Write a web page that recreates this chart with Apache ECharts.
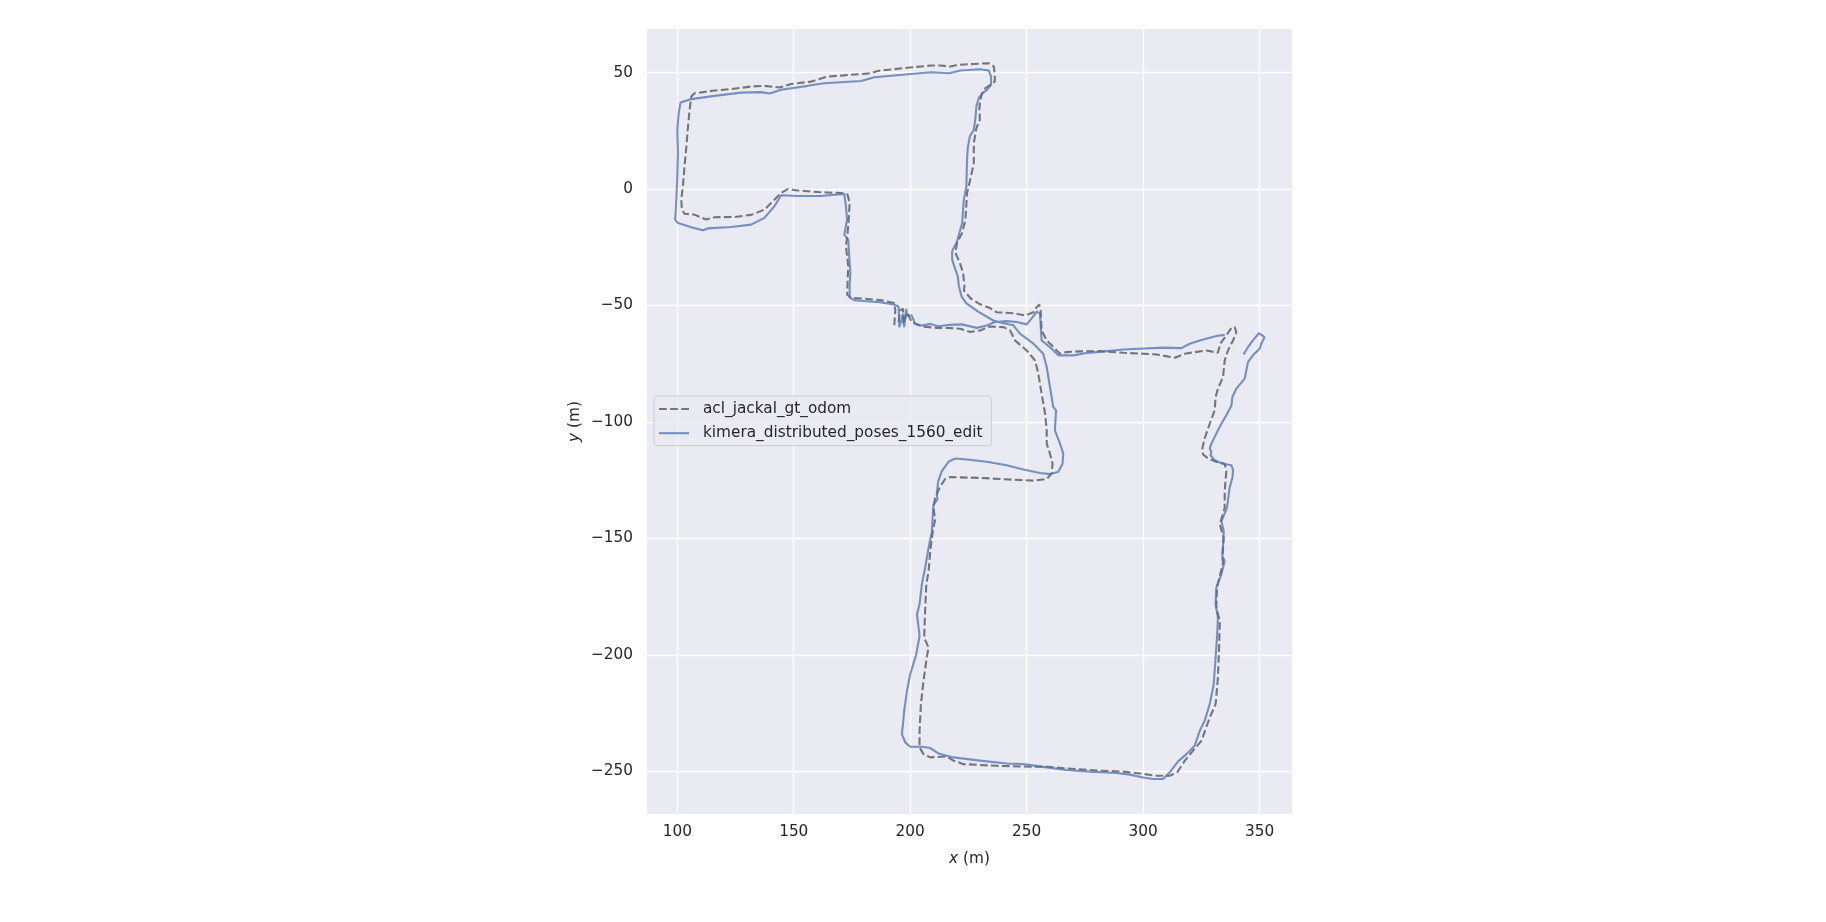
<!DOCTYPE html>
<html><head><meta charset="utf-8">
<script src="https://cdn.jsdelivr.net/npm/echarts@6/dist/echarts.min.js"></script>
<style>html,body{margin:0;padding:0;background:#fff}#c{width:1826px;height:922px}</style>
</head><body><div id="c"></div>
<script>
const seriesNames = ['acl_jackal_gt_odom', 'kimera_distributed_poses_1560_edit'];
const xTicks = [100, 150, 200, 250, 300, 350];
const yTicks = [-250, -200, -150, -100, -50, 0, 50];

const gtX = [195,195.7,196.9,197.1,198.6,200.7,205,211.4,215.7,221.4,225.7,230,234.3,240,242.9,245,250,253.6,255,256.4,257.9,258.6,258.6,260,261.1,260.7,258.6,252.9,244.3,230,217.1,215,212.9,210.7,210,210.7,209.7,208.6,207.9,206.9,206.4,206,207.9,207.1,205.7,204.6,204,204,205.7,208.6,215.7,218.6,222.9,237.1,251.4,258.6,267.1,281.4,291.4,298.6,305.7,311.4,314.6,317.9,321.4,325,328.6,331.1,332.1,332.6,332.9,331.4,331.7,334.3,334,334.6,332.9,335,335,335.7,335,331.4,327.9,325.7,325.4,326.4,328.6,330.7,331.1,332.1,334.3,335,336.4,338.6,340,339.3,337.9,335.7,333.1,332.1,327.1,317.9,313.6,305.7,291.4,281.4,272.9,267.1,264.3,262.9,258.6,256.4,256,255.4,254.3,252.9,249.3,244.3,237.1,234,230,226,223,223.3,222.7,221.3,219.4,220.1,222.3,223.7,224.4,226.1,227.3,227.3,228.4,229.9,229.7,230.1,230.9,232.3,234.4,236.3,236.3,235.9,233.7,227.3,220.1,217.3,213,208.9,201,186,183.1,170.3,164.6,157.4,148.9,143.9,137.4,131.7,123.1,116,107.4,106,105.3,104.6,103.9,103.1,102.4,101.7,102,103.1,107.4,112.4,116,124.6,131.7,137.4,141.7,144.6,147.4,151.7,161.7,170.3,173.1,174,173.6,173.1,172.4,173.4,173.1,172.9,174.6,180.3,187.4,193.1,193.6,193.1];
const gtY = [-57.1,-52.1,-51.4,-57.9,-52.9,-57.1,-59,-59.6,-59.6,-60,-61.4,-60.7,-59,-59.3,-60.7,-65,-69.3,-73.6,-79.3,-87.9,-96.4,-103.6,-109.3,-113.6,-117.9,-122.1,-124.5,-125.2,-124.8,-124,-123.7,-124.5,-127.6,-132.6,-136.9,-141.9,-146.9,-155.4,-164,-169.7,-181.1,-192.6,-196.9,-201.1,-211.1,-221.1,-232.6,-239.7,-242.6,-244,-243.6,-245.4,-246.9,-247.6,-248,-248,-248.7,-249.7,-250.1,-250.9,-251.9,-251.9,-250.4,-245.4,-241.1,-236.9,-226.9,-221.1,-209.7,-196.9,-185.4,-179.7,-171.1,-160.4,-158.3,-149.7,-144,-136.9,-129.7,-121.1,-117.9,-117.1,-115.7,-113.9,-111.4,-107.1,-100.7,-95,-89.3,-85.7,-80.7,-73.6,-69.3,-65,-61.4,-59.3,-59.6,-62.9,-66.4,-70.3,-69.3,-70.7,-72.4,-71,-70.3,-69.6,-69.7,-70,-70.7,-69.3,-65,-60.7,-52.1,-49.6,-50.7,-52.9,-54.3,-53.3,-52.9,-51,-49.5,-47,-43.5,-41.7,-36,-31.7,-27.4,-23.1,-18.9,-13.1,-1.7,5.4,11.1,19.7,26.1,29.7,34.7,38.3,41.1,43.3,44.7,46.1,49,52.6,54,53.7,53.3,52.6,53,53,52.3,50.7,49.7,48.7,48.3,46.1,45.1,43.6,44.3,44,42.9,42.3,41.1,39.7,34,26.9,18.3,9.7,1.1,-4.6,-8.9,-10.6,-11,-13.1,-12.1,-12,-11.1,-8.9,-4.6,-1.7,0,-0.6,-1.4,-1.7,-2.4,-6,-13.1,-18.9,-24.6,-33.1,-40.3,-45.3,-46.7,-47.1,-47.7,-48.9,-52.1,-59.3];

const estX = [335,331.4,324.3,320,316.4,308.6,291.4,281.4,275.7,270,263.6,260,256.4,255.7,254.3,252.6,250,245.7,241.4,236.4,232.9,228.6,222.1,217.1,212.1,208.6,205,202.1,200.7,198.6,198.3,197.4,196.9,196,195.3,195,192.9,187.1,180.3,176,174,174,174.3,173.9,173.4,171.7,172.9,172.4,171.7,161.7,151.7,144.6,141.7,137.4,131.7,123.1,113.1,111,106,100.3,99.1,99.6,100,100.3,100,100.6,101.4,106,116,127.4,136,139.6,144.6,156,163,178.9,184.6,200.3,209,216.7,221.6,230,233.7,234.7,234.7,233,230.9,229.4,228.4,228,227.3,225.6,224.7,224.4,224.1,223,222.3,220.1,218,218,219.4,220.4,220.9,222,224,229,235.7,240,244.3,247.1,252.9,257.1,258.6,260,261.4,262.6,262.1,264.3,265.7,265.4,263.6,260,255.7,248.6,241.4,232.9,224.3,219.3,216.4,213.5,212,211.4,211.7,210,209.7,209.3,207.9,206.4,205,204,202.9,203.6,204,202.6,200,198.6,197.4,196.9,196.4,197.9,200,205,208.6,212.1,218.6,230,241.4,248.6,258.6,267.1,277.1,288.6,294.3,300,304.3,308.6,311.4,315,318.6,322.1,324.3,326.4,328.6,330.3,331.1,331.7,332.1,331.1,331.4,333.6,335,334,334.3,334.6,333.6,336,337.1,338.4,338.6,337.9,334.3,330.7,328.9,329.3,328.6,329.3,331.4,333.6,335.7,337.9,338.3,340,343.6,345,347.1,350,350.7,352.1,349.7,347.1,345,343.1];
const estY = [-62.6,-63.1,-65,-66.4,-68.3,-68.1,-68.9,-69.9,-70.4,-71.4,-71.4,-67.9,-65,-53.5,-52.6,-55,-58.1,-57.1,-56.7,-57.1,-58.6,-59.6,-58.1,-58.3,-58.9,-57.9,-58.6,-57.9,-54.3,-54.3,-51.4,-59.3,-53.6,-57.1,-59.3,-50.4,-49.6,-48.6,-48.1,-47.7,-46.6,-41.7,-36,-30.3,-21.7,-19.6,-13.1,-7.4,-2.1,-3,-3,-2.7,-7.4,-12.4,-15.3,-16.3,-16.9,-17.7,-16.4,-14.6,-13.1,-4.6,5.4,15.4,25.4,32.6,37.1,38.6,40,41.4,41.6,41,42.6,44.3,45.4,46.4,48,49.4,50.1,49.7,50.9,51.4,50.9,48.3,44.7,42.6,41.1,39,35.4,30.4,25.4,22.6,17.6,12.6,1.1,-4.6,-14.6,-22.4,-26.7,-30.3,-34.6,-37.4,-41.7,-46,-49,-52.5,-56.5,-57.6,-58.5,-62.1,-66.4,-70.7,-76.4,-85,-93.6,-95,-103.6,-109.3,-113.6,-117.9,-121.4,-122.4,-121.9,-120.4,-118.6,-117.1,-116.1,-115.7,-117.1,-121.2,-125.5,-131.1,-133.3,-135.4,-139.7,-146.9,-154,-162.6,-169.7,-178.3,-182.6,-188.3,-191.9,-199.7,-208.3,-215.4,-224,-229.7,-234,-237.6,-239.4,-239.4,-240,-242.3,-244,-245.4,-246.6,-246.9,-248.3,-249.4,-250.1,-250.7,-251.4,-252.6,-253.3,-253.3,-250.4,-245.7,-242.6,-239,-232.6,-228.3,-221.1,-212.6,-201.1,-192.6,-184,-178.3,-171.1,-165.4,-159.7,-157.6,-152.6,-146.9,-142.6,-136.9,-128.3,-123.5,-120.7,-118.6,-117.9,-116.4,-114.3,-112.9,-111.4,-109.3,-105,-100.7,-97.1,-92.9,-89.3,-85.7,-81.4,-74.3,-71.4,-68.6,-66.4,-63.6,-61.9,-65,-67.9,-71];

const zip = (xs, ys) => xs.map((x, i) => [x, ys[i]]);
const fmt = v => (v < 0 ? '\u2212' + Math.abs(v) : String(v));
const FONT = 'DejaVu Sans';
const FS = 15.3;
const TXT = '#262626';
const GT_COLOR = 'rgba(0,0,0,0.5)';
const EST_COLOR = 'rgba(76,114,176,0.75)';
const DASH_ICON = 'path://M0,0h7.7v2.1h-7.7zM11,0h7.7v2.1h-7.7zM22,0h7.7v2.1h-7.7z';
const SOLID_ICON = 'path://M0,0h29.7v2.1h-29.7z';

const chart = echarts.init(document.getElementById('c'), null, {renderer: 'canvas'});
chart.setOption({
  animation: false,
  backgroundColor: '#ffffff',
  textStyle: {fontFamily: FONT},
  grid: {left: 647, top: 29, width: 645, height: 785, backgroundColor: '#EAEAF2', show: true, borderWidth: 0},
  xAxis: {
    type: 'value', min: 87.0, max: 363.9,
    name: '{i|x} (m)', nameLocation: 'middle', nameGap: 37.5,
    nameTextStyle: {color: TXT, fontSize: FS, fontFamily: FONT, rich: {i: {fontStyle: 'italic', fontSize: FS, color: TXT, fontFamily: FONT}}},
    axisLine: {show: false},
    axisTick: {show: false, customValues: xTicks},
    axisLabel: {customValues: xTicks, color: TXT, fontSize: FS, fontFamily: FONT, margin: 11, formatter: fmt},
    splitLine: {show: true, lineStyle: {color: '#ffffff', width: 1.4}}
  },
  yAxis: {
    type: 'value', min: -268.3, max: 68.7,
    name: '{i|y} (m)', nameLocation: 'middle', nameGap: 64, nameRotate: 90,
    nameTextStyle: {color: TXT, fontSize: FS, fontFamily: FONT, rich: {i: {fontStyle: 'italic', fontSize: FS, color: TXT, fontFamily: FONT}}},
    axisLine: {show: false},
    axisTick: {show: false, customValues: yTicks},
    axisLabel: {customValues: yTicks, color: TXT, fontSize: FS, fontFamily: FONT, margin: 14, formatter: fmt},
    splitLine: {show: true, lineStyle: {color: '#ffffff', width: 1.4}}
  },
  legend: {
    orient: 'vertical', left: 654, top: 396,
    data: [
      {name: seriesNames[0], icon: DASH_ICON, itemStyle: {color: GT_COLOR, opacity: 1, borderWidth: 0}},
      {name: seriesNames[1], icon: SOLID_ICON, itemStyle: {color: EST_COLOR, opacity: 1, borderWidth: 0}}
    ],
    itemWidth: 30, itemHeight: 14, itemGap: 9.2,
    padding: [5.5, 9, 5, 5],
    backgroundColor: 'rgba(234,234,242,0.8)', borderColor: '#cccccc', borderWidth: 1, borderRadius: 3,
    textStyle: {color: TXT, fontSize: FS, fontFamily: FONT, padding: [0, 0, 0, 9]}
  },
  series: [
    {
      name: seriesNames[0], type: 'line', data: zip(gtX, gtY),
      showSymbol: false, symbol: 'none', clip: true,
      lineStyle: {color: '#000000', opacity: 0.5, width: 2.1, type: [7.7, 3.3]},
      itemStyle: {color: '#000000', opacity: 0.5}
    },
    {
      name: seriesNames[1], type: 'line', data: zip(estX, estY),
      showSymbol: false, symbol: 'none', clip: true,
      lineStyle: {color: '#4C72B0', opacity: 0.75, width: 2.1},
      itemStyle: {color: '#4C72B0', opacity: 0.75}
    }
  ]
});
</script>
</body></html>
